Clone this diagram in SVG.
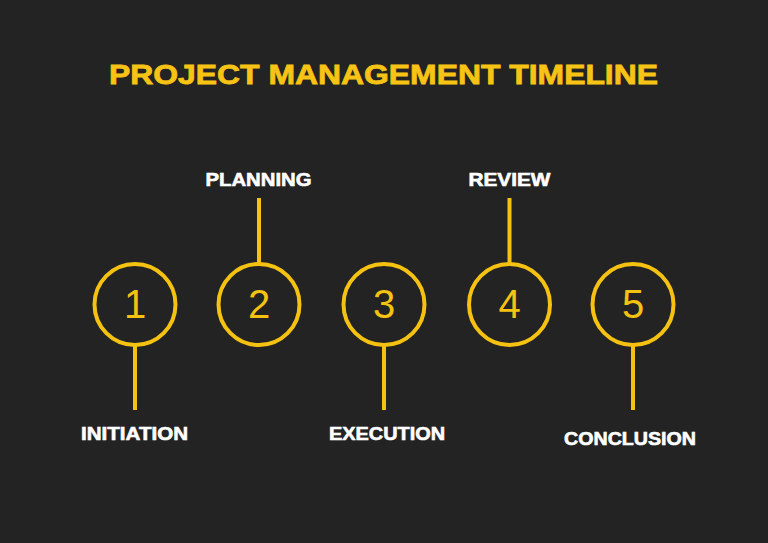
<svg xmlns="http://www.w3.org/2000/svg" width="768" height="543" viewBox="0 0 768 543">
  <style>
    .bg { fill: #232323; }
    .ring { fill: none; stroke: #f5c211; stroke-width: 4; }
    .stem { stroke: #f5c211; stroke-width: 4; }
    .num { fill: #f5c211; font-family: "Liberation Sans", Arial, sans-serif; font-size: 40px; font-weight: 400; text-anchor: middle; }
    .label { fill: #ffffff; stroke: #ffffff; stroke-width: 0.6; font-family: "Liberation Sans", Arial, sans-serif; font-size: 18px; font-weight: 700; text-anchor: middle; }
    .title { fill: #f7c315; stroke: #f7c315; stroke-width: 0.8; font-family: "Liberation Sans", Arial, sans-serif; font-size: 28px; font-weight: 700; text-anchor: middle; }
  </style>
  <rect class="bg" x="0" y="0" width="768" height="543"/>
  <text class="title" x="383.5" y="83.5" textLength="549" lengthAdjust="spacingAndGlyphs">PROJECT MANAGEMENT TIMELINE</text>
  <g id="connectors">
    <line class="stem" x1="135" y1="346" x2="135" y2="410"/>
    <line class="stem" x1="259" y1="198" x2="259" y2="263"/>
    <line class="stem" x1="384" y1="346" x2="384" y2="410"/>
    <line class="stem" x1="509.5" y1="198" x2="509.5" y2="263"/>
    <line class="stem" x1="633" y1="346" x2="633" y2="410"/>
  </g>
  <g id="node1">
    <circle class="ring" cx="135" cy="304.5" r="40.5"/>
    <text class="num" x="135" y="318">1</text>
    <text class="label" x="134.5" y="439.5" textLength="107" lengthAdjust="spacingAndGlyphs">INITIATION</text>
  </g>
  <g id="node2">
    <circle class="ring" cx="259" cy="304.5" r="40.5"/>
    <text class="num" x="259" y="318">2</text>
    <text class="label" x="258.5" y="186" textLength="106" lengthAdjust="spacingAndGlyphs">PLANNING</text>
  </g>
  <g id="node3">
    <circle class="ring" cx="384" cy="304.5" r="40.5"/>
    <text class="num" x="384" y="318">3</text>
    <text class="label" x="387" y="439.5" textLength="116" lengthAdjust="spacingAndGlyphs">EXECUTION</text>
  </g>
  <g id="node4">
    <circle class="ring" cx="509.5" cy="304.5" r="40.5"/>
    <text class="num" x="509.5" y="318">4</text>
    <text class="label" x="509.5" y="186" textLength="82" lengthAdjust="spacingAndGlyphs">REVIEW</text>
  </g>
  <g id="node5">
    <circle class="ring" cx="633" cy="304.5" r="40.5"/>
    <text class="num" x="633" y="318">5</text>
    <text class="label" x="630" y="445" textLength="132" lengthAdjust="spacingAndGlyphs">CONCLUSION</text>
  </g>
</svg>
